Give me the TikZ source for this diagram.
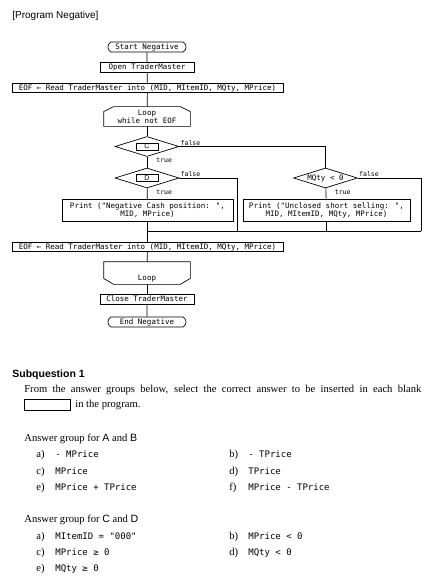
\documentclass[tikz,border=0pt]{standalone}
\usepackage{fontspec}
\setmainfont{Liberation Serif}
\setsansfont{Liberation Sans}
\newfontfamily\codefont{DejaVu Sans Mono}
\usetikzlibrary{shapes.geometric,shapes.misc}
\newcommand{\fc}{\codefont\fontsize{7.5}{9}\selectfont}
\newcommand{\opt}[2]{\makebox[19pt][l]{#1}{\codefont\fontsize{9}{10}\selectfont #2}}
\begin{document}
\begin{tikzpicture}[x=1pt,y=-1pt,line width=0.7pt,
  term/.style={draw,rounded rectangle,rounded rectangle arc length=120,minimum width=78pt,minimum height=10pt,inner sep=0pt,font=\fc},
  proc/.style={draw,rectangle,minimum height=9.5pt,inner sep=0pt,font=\fc},
  lbox/.style={rectangle,minimum width=86pt,inner sep=0pt,align=center,font=\fc},
  dec/.style={draw,diamond,aspect=3,minimum width=64pt,minimum height=20pt,inner sep=0pt,font=\fc},
  slot/.style={draw,minimum width=22pt,minimum height=7pt,inner sep=0pt,font=\sffamily\fontsize{7}{7}\selectfont},
  flag/.style={inner sep=1pt,font=\codefont\fontsize{6.5}{7}\selectfont},
  txt/.style={anchor=base west,inner sep=0pt,font=\fontsize{10.6}{12}\selectfont},
  blankbox/.style={draw,line width=1.5pt,minimum width=46pt,minimum height=11pt,inner sep=0pt}]
 \useasboundingbox (0,0) rectangle (431,583);
 % flowchart
 \node[txt,font=\sffamily\fontsize{10}{12}\selectfont] (title) at (12,19) {[Program Negative]};
 \node[term] (start) at (147,47) {Start Negative};
 \node[proc,minimum width=94pt] (open) at (147,67.5) {Open TraderMaster};
 \node[proc,minimum width=271pt] (read1) at (147.5,88) {EOF ← Read TraderMaster into (MID, MItemID, MQty, MPrice)};
 \node[lbox,minimum height=19pt] (ltop) at (147,116.5) {Loop\\[-1pt]while not EOF};
 \draw (ltop.south west) -- ([yshift=-5pt]ltop.north west) -- ([xshift=10pt]ltop.north west)
   -- ([xshift=-10pt]ltop.north east) -- ([yshift=-5pt]ltop.north east) -- (ltop.south east) -- cycle;
 \node[dec] (c) at (147,146.5) {};
 \node[slot] (cslot) at (c) {C};
 \node[dec] (d) at (147,178) {};
 \node[slot] (dslot) at (d) {D};
 \node[dec] (mq) at (325.5,178) {MQty < 0};
 \node[proc,minimum width=171pt,minimum height=22pt,align=center] (pneg) at (147.5,210.5) {Print ("Negative Cash position: ",\\[-1pt]MID, MPrice)};
 \node[proc,minimum width=167pt,minimum height=22pt,align=center] (punc) at (326.5,210.5) {Print ("Unclosed short selling: ",\\[-1pt]MID, MItemID, MQty, MPrice)};
 \coordinate (jl) at (147,231);
 \coordinate (jd) at (237,231);
 \coordinate (jr) at (421,231);
 \node[proc,minimum width=271pt] (read2) at (147.5,247) {EOF ← Read TraderMaster into (MID, MItemID, MQty, MPrice)};
 \node[lbox,minimum height=22pt] (lbot) at (147,273) {};
 \node[inner sep=0pt,font=\fc] (lbott) at ([yshift=-5.5pt]lbot.center) {Loop};
 \draw (lbot.north west) -- ([yshift=6pt]lbot.south west) -- ([xshift=10pt]lbot.south west)
   -- ([xshift=-10pt]lbot.south east) -- ([yshift=6pt]lbot.south east) -- (lbot.north east) -- cycle;
 \node[proc,minimum width=94pt,minimum height=10pt] (close) at (147,299) {Close TraderMaster};
 \node[term] (stop) at (147,322) {End Negative};
 % connectors
 \draw (start) -- (open);
 \draw (open) -- (read1);
 \draw (read1) -- (ltop);
 \draw (ltop) -- (c);
 \draw (c) -- (d);
 \draw (d) -- (pneg);
 \draw (pneg) -- (read2);
 \draw (read2) -- (lbot);
 \draw (lbot) -- (close);
 \draw (close) -- (stop);
 \draw (c.east) -| (mq.north);
 \draw (d.east) -| (jd);
 \draw (mq.east) -| (jr);
 \draw (mq) -- (punc);
 \draw (punc.south) -- (punc.south |- jr);
 \draw (jl) -- (jr);
 \node[flag,anchor=south west] (cf) at (c.east) {false};
 \node[flag,anchor=north west] (ct) at ([xshift=8pt]c.south) {true};
 \node[flag,anchor=south west] (df) at (d.east) {false};
 \node[flag,anchor=north west] (dt) at ([xshift=8pt]d.south) {true};
 \node[flag,anchor=south west] (mf) at (mq.east) {false};
 \node[flag,anchor=north west] (mt) at ([xshift=8pt]mq.south) {true};
 % question text
 \node[txt,font=\sffamily\bfseries\fontsize{10.5}{12}\selectfont] (subq) at (12,377) {Subquestion 1};
 \node[txt] (intro) at (24,392.5) {\makebox[397pt][s]{From the answer groups below, select the correct answer to be inserted in each blank}};
 \node[blankbox] (blank) at (47.5,405) {};
 \node[txt] (intro2) at (75,407) {in the program.};
 \node[txt] (grpab) at (24,441) {Answer group for \textsf{A} and \textsf{B}};
 \node[txt] (ab1) at (36,457) {\opt{a)}{- MPrice}};
 \node[txt] (ab2) at (229,457) {\opt{b)}{- TPrice}};
 \node[txt] (ab3) at (36,474) {\opt{c)}{MPrice}};
 \node[txt] (ab4) at (229,474) {\opt{d)}{TPrice}};
 \node[txt] (ab5) at (36,490) {\opt{e)}{MPrice + TPrice}};
 \node[txt] (ab6) at (229,490) {\opt{f)}{MPrice - TPrice}};
 \node[txt] (grpcd) at (24,522) {Answer group for \textsf{C} and \textsf{D}};
 \node[txt] (cd1) at (36,539) {\opt{a)}{MItemID = "000"}};
 \node[txt] (cd2) at (229,539) {\opt{b)}{MPrice < 0}};
 \node[txt] (cd3) at (36,555) {\opt{c)}{MPrice ≥ 0}};
 \node[txt] (cd4) at (229,555) {\opt{d)}{MQty < 0}};
 \node[txt] (cd5) at (36,571) {\opt{e)}{MQty ≥ 0}};
\end{tikzpicture}
\end{document}
